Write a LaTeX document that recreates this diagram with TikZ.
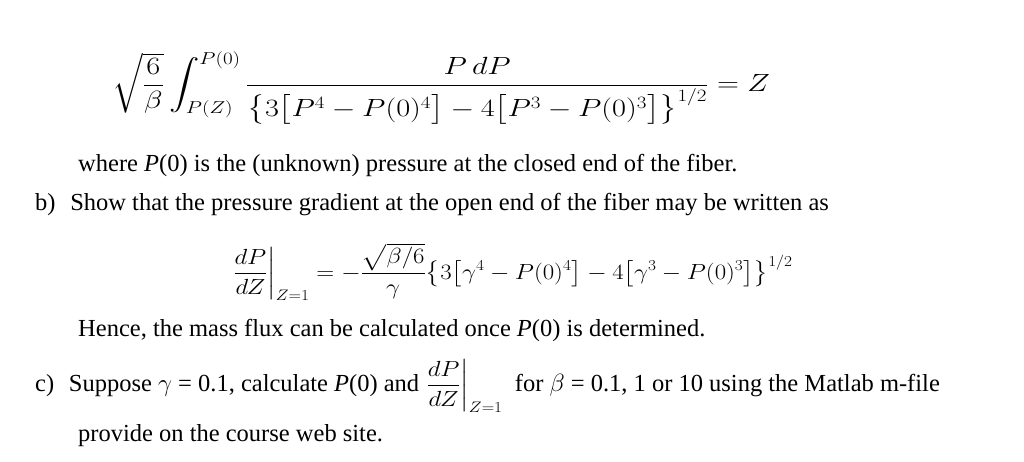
\documentclass[tikz,border=0pt]{standalone}
\usepackage{amsmath}
\usepackage{graphicx}
\usepackage{fontspec}
\setmainfont{Liberation Serif}
\begin{document}
\begin{tikzpicture}[x=1pt,y=-1pt,every node/.style={inner sep=0pt,anchor=west,font=\fontsize{24.5}{29}\selectfont}]
\useasboundingbox (0,0) rectangle (1024,462);
\node[xscale=1.22] (eqa) at (112,88) {$\displaystyle\sqrt{\frac{6}{\beta}}\int_{P(Z)}^{P(0)}\frac{P\,dP}{\bigl\{3\bigl[P^4-P(0)^4\bigr]-4\bigl[P^3-P(0)^3\bigr]\bigr\}^{1/2}}=Z$};
\node (t1) at (78,165) {where \textit{P}(0) is the (unknown) pressure at the closed end of the fiber.};
\node (t2) at (35,205) {b)\hspace{0.6em}Show that the pressure gradient at the open end of the fiber may be written as};
\node[yscale=0.88] (eqb) at (232,272) {$\displaystyle\left.\frac{dP}{dZ}\right|_{Z=1}=-\frac{\sqrt{\beta/6}}{\gamma}\bigl\{3\bigl[\gamma^4-P(0)^4\bigr]-4\bigl[\gamma^3-P(0)^3\bigr]\bigr\}^{1/2}$};
\node (t3) at (78,330) {Hence, the mass flux can be calculated once \textit{P}(0) is determined.};
\node (t4) at (35,386) {c)\hspace{0.6em}Suppose $\gamma$ = 0.1, calculate \textit{P}(0) and \raisebox{0pt}{\scalebox{1}[0.88]{$\displaystyle\left.\frac{dP}{dZ}\right|_{Z=1}$}} \ for $\beta$ = 0.1, 1 or 10 using the Matlab m-file};
\node (t5) at (78,436) {provide on the course web site.};
\end{tikzpicture}
\end{document}
